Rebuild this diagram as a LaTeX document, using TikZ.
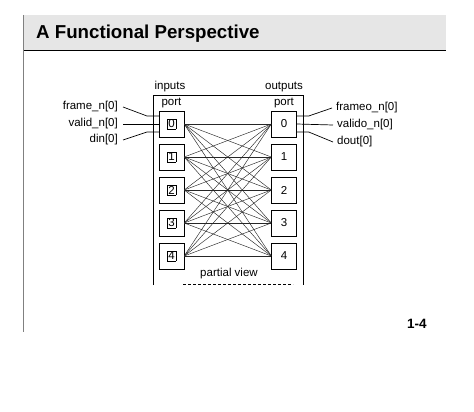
\documentclass[tikz,border=0pt]{standalone}
\usepackage{fontspec}
\setmainfont{Liberation Sans}
\usepackage{tikz}
\usetikzlibrary{positioning,calc}
\definecolor{hdrgray}{HTML}{E6E6E6}
\setlength{\fboxsep}{0.8pt}
\setlength{\fboxrule}{0.4pt}

\begin{document}
\begin{tikzpicture}[
    x=1pt, y=-1pt,
    portbox/.style={
        draw=black,
        fill=white,
        minimum width=25pt,
        minimum height=26pt,
        inner sep=0pt,
        font=\fontsize{11.5}{13}\selectfont,
    },
    lbl/.style={
        inner sep=0pt,
        font=\fontsize{11.5}{13}\selectfont,
    },
    wire/.style={
        line width=0.7pt,
        color=black,
    },
    crossline/.style={
        line width=0.45pt,
        color=black!85,
    },
]
\useasboundingbox (0,0) rectangle (474,412);

\fill[hdrgray] (24,15) rectangle (446,50);
\draw[line width=1.6pt] (24,50.5) -- (446,50.5);
\draw[gray,line width=0.8pt] (23,15) -- (23,332);
\node[anchor=base west,inner sep=0pt,font=\bfseries\fontsize{18.7}{20}\selectfont] (title) at (36,39) {A Functional Perspective};
\node[anchor=base west,inner sep=0pt,font=\bfseries\fontsize{13.5}{15}\selectfont] (pg) at (407,328) {1-4};

\draw[line width=0.6pt] (153,285) |- (303,95) -- (303,285);
\node[lbl] (inlbl) at (170,87) {inputs};
\node[lbl] (outlbl) at (284,87) {outputs};

\foreach \i in {0,...,4} {
    \node[portbox] (in\i) at (171.5,{124+33*\i}) {\fbox{\i}};
    \node[portbox] (out\i) at (284,{124+33*\i}) {\i};
}
\foreach \i in {0,...,4}
    \foreach \j in {0,...,4}
        \draw[crossline] (in\i.east) -- (out\j.west);

\node[lbl,above=2.5pt of in0] (inport) {port};
\node[lbl,above=2.5pt of out0] (outport) {port};

\node[lbl,anchor=east] (fr) at (118,107) {frame\_n[0]};
\node[lbl,anchor=east] (vd) at (118,124) {valid\_n[0]};
\node[lbl,anchor=east] (dn) at (118,140) {din[0]};

\draw[wire] ([xshift=5pt]fr.east) -- ++(24,9) -- ([yshift=8pt]in0.west);
\draw[wire] ([xshift=5pt]vd.east) -- (in0.west);
\draw[wire] ([xshift=5pt]dn.east) -- ++(24,-8) -- ([yshift=-8pt]in0.west);

\node[lbl,anchor=west] (fo) at (336,108) {frameo\_n[0]};
\node[lbl,anchor=west] (vo) at (337,125) {valido\_n[0]};
\node[lbl,anchor=west] (dt) at (337,142) {dout[0]};

\draw[wire] ([yshift=8pt]out0.east) -- ++(12,0) -- ([xshift=-4pt]fo.west);
\draw[wire] (out0.east) -- ([xshift=-4pt]vo.west);
\draw[wire] ([yshift=-8pt]out0.east) -- ++(12,0) -- ([xshift=-4pt]dt.west);

\node[lbl] (pv) at (229,274) {partial view};
\draw[dashed,dash pattern=on 3pt off 2pt] (183,284) -- (293,284);
\end{tikzpicture}
\end{document}
